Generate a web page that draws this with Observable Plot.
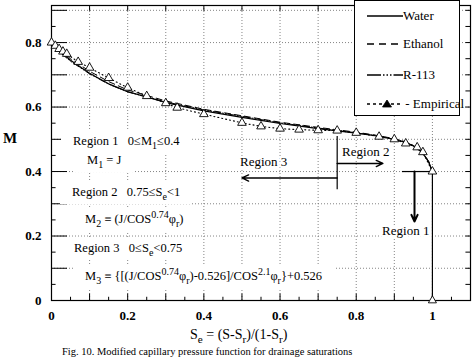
<!DOCTYPE html>
<html>
<head>
<meta charset="utf-8">
<script src="https://cdn.jsdelivr.net/npm/d3@7"></script>
<script src="https://cdn.jsdelivr.net/npm/@observablehq/plot@0.6"></script>
<style>
  body { margin: 0; background: white; }
  #wrap { position: relative; width: 474px; height: 358px; overflow: hidden; background: white; font-family: "Liberation Serif", "Times New Roman", "DejaVu Serif", serif; color: #000; }
  #wrap svg text { font-family: "Liberation Serif", "Times New Roman", "DejaVu Serif", serif; }
  .ov { position: absolute; white-space: nowrap; font-size: 12.5px; line-height: 1; }
  .bg { background: white; padding: 5px 12px; }
  sub { font-size: 80%; vertical-align: -4px; line-height: 0; }
  sup { font-size: 80%; vertical-align: 5px; line-height: 0; }
  #legend { position: absolute; left: 354px; top: 0px; width: 104px; height: 114px; border: 1.5px solid #000; background: white; }
  .lg { position: absolute; left: 12px; height: 14px; display: flex; align-items: center; font-size: 13px; }
</style>
</head>
<body>
<div id="wrap"></div>
<script>
// ---- data ----
const satWater   = [0, 0.02, 0.05, 0.1, 0.15, 0.2, 0.3, 0.4, 0.5, 0.6, 0.7, 0.8, 0.85, 0.9, 0.93, 0.95, 0.97, 0.98, 0.99, 1];
const mWater     = [0.80, 0.775, 0.745, 0.705, 0.672, 0.648, 0.614, 0.588, 0.568, 0.549, 0.533, 0.519, 0.511, 0.500, 0.490, 0.479, 0.462, 0.448, 0.430, 0.40];
const mEthanol   = [0.80, 0.779, 0.750, 0.711, 0.679, 0.653, 0.619, 0.593, 0.573, 0.553, 0.537, 0.522, 0.513, 0.502, 0.492, 0.481, 0.464, 0.450, 0.432, 0.40];
const mR113      = [0.80, 0.772, 0.742, 0.703, 0.671, 0.647, 0.616, 0.591, 0.571, 0.551, 0.535, 0.520, 0.512, 0.501, 0.491, 0.480, 0.463, 0.449, 0.431, 0.40];
const satEmp     = [0, 0.01, 0.02, 0.03, 0.04, 0.07, 0.1, 0.15, 0.2, 0.25, 0.3, 0.33, 0.4, 0.5, 0.55, 0.6, 0.65, 0.7, 0.75, 0.8, 0.86, 0.9, 0.93, 0.96, 0.975, 1];
const mEmp       = [0.80, 0.79, 0.78, 0.772, 0.765, 0.74, 0.722, 0.69, 0.66, 0.634, 0.612, 0.598, 0.578, 0.551, 0.540, 0.533, 0.530, 0.528, 0.527, 0.520, 0.508, 0.500, 0.487, 0.475, 0.460, 0.40];
const empEnd     = [{s: 1, m: 0}];
const xTickLabels = [0, 0.2, 0.4, 0.6, 0.8, 1];
const yTickLabels = [0, 0.2, 0.4, 0.6, 0.8];
const gridXVals  = [0.1, 0.2, 0.3, 0.4, 0.5, 0.6, 0.7, 0.8, 0.9, 1.0];
const gridYVals  = [0.1, 0.2, 0.3, 0.4, 0.5, 0.6, 0.7, 0.8, 0.9];
const minorXVals = [0.05, 0.15, 0.25, 0.35, 0.45, 0.55, 0.65, 0.75, 0.85, 0.95, 1.05];
const minorYVals = [0.05, 0.15, 0.25, 0.35, 0.45, 0.55, 0.65, 0.75, 0.85];
// region annotations (data units)
const regionRules  = [{x1: 0.75, y1: 0.51, x2: 0.75, y2: 0.345}, {x1: 0.92, y1: 0.40, x2: 1.0, y2: 0.40}, {x1: 1.0, y1: 0.40, x2: 1.0, y2: 0.0}];
const regionArrows = [{x1: 0.75, y1: 0.38, x2: 0.50, y2: 0.38, w: 1.4}, {x1: 0.75, y1: 0.425, x2: 0.87, y2: 0.425, w: 1.4}, {x1: 0.953, y1: 0.40, x2: 0.953, y2: 0.245, w: 2}];
const regionLabels = [{x: 0.557, y: 0.43, t: "Region 3"}, {x: 0.825, y: 0.462, t: "Region 2"}, {x: 0.93, y: 0.215, t: "Region 1"}];

const toRows = (xs, ys) => xs.map((s, i) => ({s, m: ys[i]}));
const water = toRows(satWater, mWater);
const ethanol = toRows(satWater, mEthanol);
const r113 = toRows(satWater, mR113);
const emp = toRows(satEmp, mEmp);

const serif = "'Liberation Serif', 'Times New Roman', 'DejaVu Serif', serif";
const chart = Plot.plot({
  width: 474, height: 358,
  marginLeft: 51, marginRight: 4, marginTop: 5, marginBottom: 58,
  x: {domain: [0, 1.1]},
  y: {domain: [0, 0.915]},
  style: {fontFamily: serif, fontSize: "13px", background: "white", color: "black"},
  marks: [
    Plot.gridX(gridXVals, {stroke: "#666", strokeOpacity: 1, strokeWidth: 0.8, strokeDasharray: "1,2"}),
    Plot.gridY(gridYVals, {stroke: "#666", strokeOpacity: 1, strokeWidth: 0.8, strokeDasharray: "1,2"}),
    // inward tick marks
    Plot.ruleY(gridYVals, {x1: 0, x2: 0.042, stroke: "black", strokeWidth: 1}),
    Plot.ruleY(minorYVals, {x1: 0, x2: 0.012, stroke: "black", strokeWidth: 1}),
    Plot.ruleY(minorYVals.concat(gridYVals), {x1: 1.088, x2: 1.1, stroke: "black", strokeWidth: 1}),
    Plot.ruleX(gridXVals, {y1: 0, y2: 0.02, stroke: "black", strokeWidth: 1}),
    Plot.ruleX(minorXVals, {y1: 0, y2: 0.01, stroke: "black", strokeWidth: 1}),
    Plot.ruleX(gridXVals, {y1: 0.915, y2: 0.897, stroke: "black", strokeWidth: 1}),
    Plot.axisX(xTickLabels, {tickSize: 0, tickPadding: 10, label: null, fontWeight: "bold", fontSize: 13, tickFormat: d => String(d)}),
    Plot.axisY(yTickLabels, {tickSize: 0, tickPadding: 10, label: null, fontWeight: "bold", fontSize: 13, tickFormat: d => String(d)}),
    Plot.frame({stroke: "black", strokeWidth: 1.2}),
    // curves
    Plot.line(ethanol, {x: "s", y: "m", stroke: "black", strokeWidth: 1, strokeDasharray: "6,4"}),
    Plot.line(r113, {x: "s", y: "m", stroke: "black", strokeWidth: 1, strokeDasharray: "7,2,1,2,1,2"}),
    Plot.line(water, {x: "s", y: "m", stroke: "black", strokeWidth: 1.2}),
    Plot.line(emp, {x: "s", y: "m", stroke: "black", strokeWidth: 1.1, strokeDasharray: "1,3"}),
    // region annotations
    Plot.link(regionRules, {x1: "x1", y1: "y1", x2: "x2", y2: "y2", stroke: "black", strokeWidth: 1.2}),
    Plot.arrow(regionArrows, {x1: "x1", y1: "y1", x2: "x2", y2: "y2", stroke: "black", strokeWidth: d => d.w, headLength: 11, headAngle: 50}),
    Plot.dot(emp, {x: "s", y: "m", symbol: "triangle", r: 3.2, fill: "white", stroke: "black", strokeWidth: 0.9}),
    Plot.dot(empEnd, {x: "s", y: "m", symbol: "triangle", r: 3, fill: "white", stroke: "black", strokeWidth: 0.9}),
    Plot.text(regionLabels, {x: "x", y: "y", text: "t", fontSize: 13, fill: "black", stroke: "white", strokeWidth: 4, paintOrder: "stroke"})
  ]
});

const wrap = document.getElementById("wrap");
wrap.appendChild(chart);

function ov(html, left, top, cls) {
  const d = document.createElement("div");
  d.className = "ov " + (cls || "");
  d.style.left = left + "px";
  d.style.top = top + "px";
  d.innerHTML = html;
  wrap.appendChild(d);
  return d;
}
// formula annotations
ov("Region 1&nbsp;&nbsp;&nbsp;0≤M<sub>1</sub>≤0.4", 61, 130, "bg");
ov("M<sub>1</sub> = J", 75, 149, "bg");
ov("Region 2&nbsp;&nbsp;&nbsp;0.75≤S<sub>e</sub>&lt;1", 60, 181, "bg");
ov("M<sub>2</sub> ≡ (J/COS<sup>0.74</sup>φ<sub>r</sub>)", 73, 208, "bg");
ov("Region 3&nbsp;&nbsp;&nbsp;0≤S<sub>e</sub>&lt;0.75", 62, 237, "bg");
ov("M<sub>3</sub> ≡ {[(J/COS<sup>0.74</sup>φ<sub>r</sub>)-0.526]/COS<sup>2.1</sup>φ<sub>r</sub>}+0.526", 73, 265, "bg");
// axis titles and caption
ov("<b>M</b>", 3, 131).style.fontSize = "15px";
ov("S<sub>e</sub> = (S-S<sub>r</sub>)/(1-S<sub>r</sub>)", 190, 328).style.fontSize = "14px";
const cap = ov("Fig. 10. Modified capillary pressure function for drainage saturations", 62, 347);
cap.style.fontSize = "10.5px";

// legend
const legend = document.createElement("div");
legend.id = "legend";
wrap.appendChild(legend);
const legendItems = [
  {name: "Water", dash: null, tri: false},
  {name: "Ethanol", dash: "7,5", tri: false},
  {name: "R-113", dash: "14,2,1.5,2,1.5,2,1.5,2", tri: false},
  {name: " - Empirical", dash: "3,3", tri: true}
];
const legendTops = [8, 36, 67, 96];
legendItems.forEach((it, i) => {
  const row = document.createElement("div");
  row.className = "lg";
  row.style.top = legendTops[i] + "px";
  const w = it.tri ? 35 : 36;
  let svg = `<svg width="${w}" height="14" style="display:block"><line x1="0" y1="7" x2="${w}" y2="7" stroke="black" stroke-width="${it.tri ? 1.4 : 1.3}" ${it.dash ? `stroke-dasharray="${it.dash}"` : ""}/>`;
  if (it.tri) svg += `<path d="M20,3 L24.5,10 L15.5,10 Z" fill="black" stroke="black" stroke-width="0.8"/>`;
  svg += `</svg>`;
  row.innerHTML = svg + `<span style="white-space:pre">${it.name}</span>`;
  legend.appendChild(row);
});
</script>
</body>
</html>
